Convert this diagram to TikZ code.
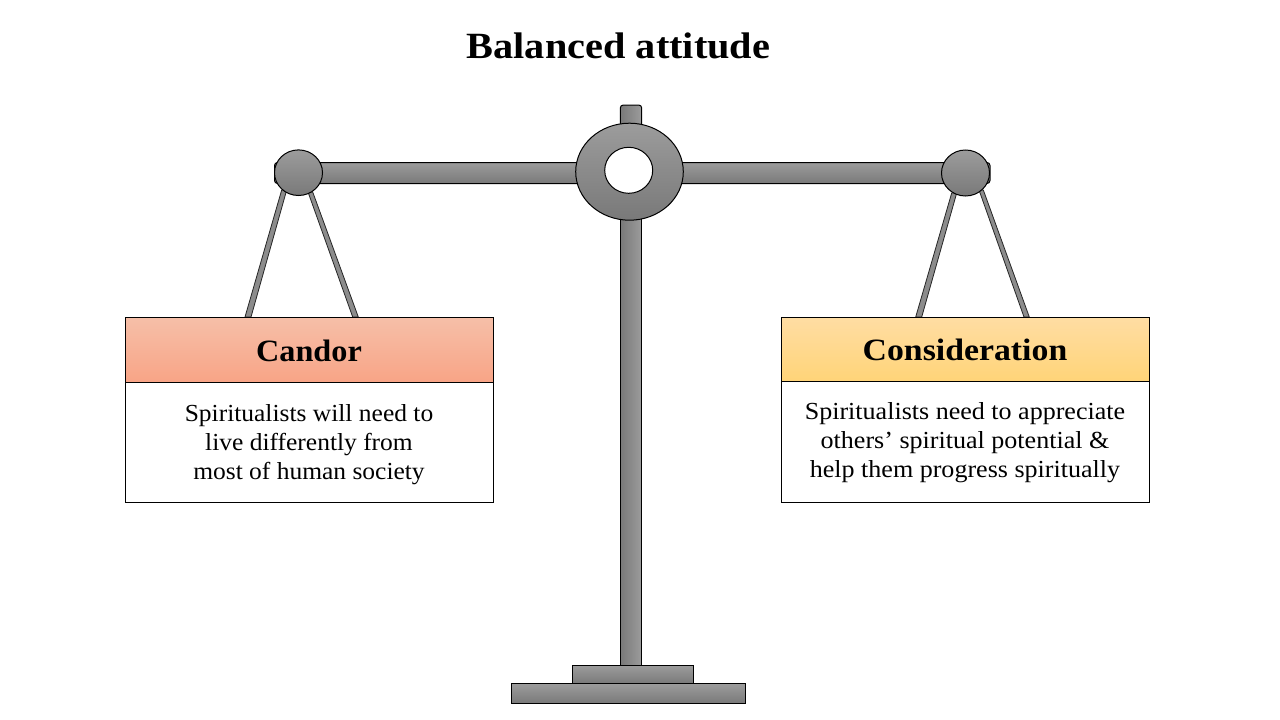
\documentclass[tikz,border=0pt]{standalone}
\usepackage{fontspec}
\setmainfont{Liberation Serif}
\newfontfamily\titlefont[FakeStretch=1.09]{Liberation Serif}
\newfontfamily\headleft[FakeStretch=1.04]{Liberation Serif}
\newfontfamily\headright[FakeStretch=1.09]{Liberation Serif}
\newfontfamily\bodyleft[FakeStretch=1.04]{Liberation Serif}
\newfontfamily\bodyright[FakeStretch=1.063]{Liberation Serif}
\definecolor{metalTop}{HTML}{9C9C9C}
\definecolor{metalBot}{HTML}{797979}
\definecolor{lefttop}{HTML}{F6BFA8}
\definecolor{leftbot}{HTML}{F8A486}
\definecolor{righttop}{HTML}{FFDDA3}
\definecolor{rightbot}{HTML}{FFD478}
\tikzset{
  x=1pt,y=-1pt,
  metal/.style={draw=black,line width=1pt,top color=metalTop,bottom color=metalBot,shading angle=0},
  metalside/.style={draw=black,line width=1pt,left color=metalBot,right color=metalTop},
  strap/.style={draw=black!85,line width=0.8pt,fill=metalTop!90!black},
  headbox/.style={draw=black,line width=0.8pt,anchor=north west,minimum width=368pt,inner sep=0pt,outer sep=0pt},
  bodybox/.style={draw=black,line width=0.8pt,anchor=north west,minimum width=368pt,inner sep=0pt,outer sep=0pt,fill=white},
  headtext/.style={text=black,inner sep=0pt},
  bodytext/.style={align=center,text=black,inner sep=0pt},
}
\begin{document}
\begin{tikzpicture}
\useasboundingbox[fill=white] (0,0) rectangle (1280,720);
\node[font=\fontsize{37}{42}\selectfont\titlefont\bfseries,inner sep=0pt] (title) at (618.5,46) {Balanced attitude};
% straps
\draw[strap] (281.7,190) -- (286.7,190) -- (251,317) -- (245,317) -- cycle;
\draw[strap] (308,192) -- (312.7,192) -- (358.3,317) -- (352.7,317) -- cycle;
\draw[strap] (951.7,193) -- (956.7,193) -- (921.7,317) -- (915.7,317) -- cycle;
\draw[strap] (979,190) -- (983.3,190) -- (1029.3,317) -- (1024,317) -- cycle;
% post
\draw[metalside,rounded corners=3pt] (620.3,105) rectangle (641.7,140);
\draw[metalside] (620.3,200) rectangle (641.7,665.5);
% beam
\draw[metal,rounded corners=3pt] (274.5,162.5) rectangle (990,183.5);
% balls
\draw[metal] (298.5,172.7) ellipse [x radius=24,y radius=22.8];
\draw[metal] (965.5,173) ellipse [x radius=24,y radius=23];
% ring
\draw[metal] (629.5,171.7) ellipse [x radius=53.8,y radius=48.5];
\draw[draw=black,line width=1pt,fill=white] (628.7,170.3) ellipse [x radius=24,y radius=23];
% base
\draw[metal] (572.5,665.5) rectangle (693.5,683.5);
\draw[metal] (511.5,683.5) rectangle (745.5,703.5);
% left card
\node[bodybox,minimum height=120pt] (lbody) at (125.5,382.5) {};
\node[headbox,minimum height=65pt,top color=lefttop,bottom color=leftbot] (lhead) at (125.5,317.5) {};
\node[headtext,font=\fontsize{31}{36}\selectfont\headleft\bfseries] (lheadtext) at (309,351) {Candor};
\node[bodytext,font=\fontsize{24.5}{29}\selectfont\bodyleft] (lbodytext) at (309,444.5) {Spiritualists will need to\\live differently from\\most of human society};
% right card
\node[bodybox,minimum height=121pt] (rbody) at (781.5,381.5) {};
\node[headbox,minimum height=64pt,top color=righttop,bottom color=rightbot] (rhead) at (781.5,317.5) {};
\node[headtext,font=\fontsize{31}{36}\selectfont\headright\bfseries] (rheadtext) at (965,350) {Consideration};
\node[bodytext,font=\fontsize{24.5}{29}\selectfont\bodyright] (rbodytext) at (965,442.5) {Spiritualists need to appreciate\\others’ spiritual potential \&\\help them progress spiritually};
\end{tikzpicture}
\end{document}
